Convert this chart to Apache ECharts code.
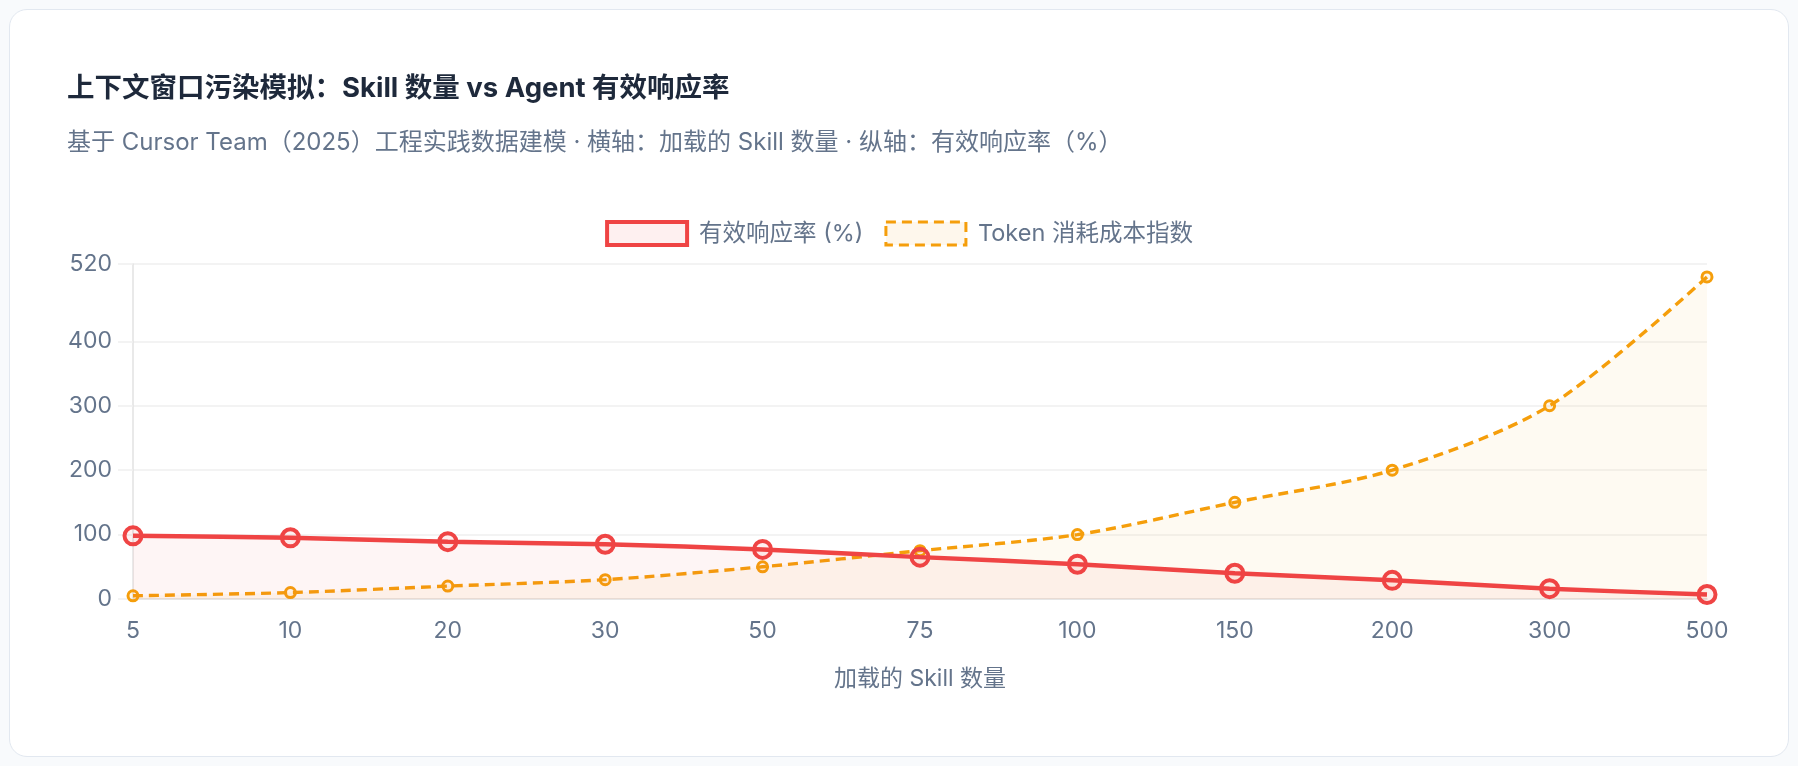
<!DOCTYPE html>
<html>
<head>
<meta charset="utf-8">
<script src="https://cdn.jsdelivr.net/npm/echarts@6/dist/echarts.min.js"></script>
<style>
  html, body { margin: 0; padding: 0; background: #f8fafc; }
  #card {
    position: absolute; left: 9px; top: 9px; width: 1778px; height: 746px;
    background: #fff; border: 1px solid #e2e8f0; border-radius: 18px;
  }
  #chart { position: absolute; left: 0; top: 0; width: 1798px; height: 766px; }
</style>
</head>
<body>
<div id="card"></div>
<div id="chart"></div>
<script>
// 数据
var skillCounts = ['5', '10', '20', '30', '50', '75', '100', '150', '200', '300', '500'];
var responseRate = [98, 95, 89, 85, 77, 65, 54, 40, 29, 16, 7];
var tokenCost = [5, 10, 20, 30, 50, 75, 100, 150, 200, 300, 500];
var yTicks = [0, 100, 200, 300, 400, 520];
var seriesNames = ['有效响应率 (%)', 'Token 消耗成本指数'];

var titleText = '上下文窗口污染模拟：Skill 数量 vs Agent 有效响应率';
var subText = '基于 Cursor Team（2025）工程实践数据建模 · 横轴：加载的 Skill 数量 · 纵轴：有效响应率（%）';

var fontFamily = 'Inter, "Noto Sans CJK SC", sans-serif';
var red = '#ef4444', redFill = 'rgba(239,68,68,0.08)';
var orange = '#f59e0b', orangeFill = 'rgba(245,158,11,0.08)';
var gridColor = '#efefef';
var textColor = '#64748b';

var myChart = echarts.init(document.getElementById('chart'));

var option = {
  animation: false,
  textStyle: { fontFamily: fontFamily },
  title: [{
    text: titleText,
    left: 62, top: 70,
    textStyle: { fontSize: 27.5, fontWeight: 'bold', color: '#1e293b', fontFamily: fontFamily }
  }, {
    text: subText,
    left: 62, top: 126,
    textStyle: { fontSize: 24, fontWeight: 'normal', color: textColor, fontFamily: fontFamily }
  }],
  legend: {
    top: 215,
    left: 'center',
    itemWidth: 80,
    itemHeight: 23,
    itemGap: 21,
    textStyle: { fontSize: 23.5, color: textColor, fontFamily: fontFamily, padding: [0, 0, 0, 7] },
    data: [{
      name: seriesNames[0], icon: 'rect',
      itemStyle: { color: redFill, borderColor: red, borderWidth: 4 }
    }, {
      name: seriesNames[1], icon: 'rect',
      itemStyle: { color: orangeFill, borderColor: orange, borderWidth: 3, borderType: [10, 6] }
    }]
  },
  grid: { left: 133, right: 91, top: 264, bottom: 167, containLabel: false },
  xAxis: {
    type: 'category',
    data: skillCounts,
    boundaryGap: false,
    name: '加载的 Skill 数量',
    nameLocation: 'middle',
    nameGap: 69,
    nameTextStyle: { fontSize: 23, color: textColor },
    axisLine: { show: true, lineStyle: { color: '#e2e2e2', width: 1.5 } },
    axisTick: { show: false },
    axisLabel: { fontSize: 23, color: textColor, margin: 21 },
    splitLine: { show: false }
  },
  yAxis: {
    type: 'value',
    min: 0,
    max: 520,
    axisLine: { show: true, lineStyle: { color: '#e2e2e2', width: 1.5 } },
    axisTick: { show: true, length: 15, customValues: yTicks, lineStyle: { color: gridColor, width: 1.5 } },
    axisLabel: { fontSize: 23, color: textColor, margin: 21, customValues: yTicks },
    splitLine: { show: true, lineStyle: { color: gridColor, width: 1.5 } }
  },
  series: [{
    name: seriesNames[0],
    type: 'line',
    data: responseRate,
    smooth: 0.3,
    symbol: 'circle',
    symbolSize: 17,
    lineStyle: { color: red, width: 4.5 },
    itemStyle: { color: redFill, borderColor: red, borderWidth: 4 },
    areaStyle: { color: redFill, origin: 'start' },
    z: 3
  }, {
    name: seriesNames[1],
    type: 'line',
    data: tokenCost,
    smooth: 0.3,
    symbol: 'circle',
    symbolSize: 10,
    lineStyle: { color: orange, width: 3.4, type: [10, 6] },
    itemStyle: { color: orangeFill, borderColor: orange, borderWidth: 3 },
    areaStyle: { color: orangeFill, origin: 'start' },
    z: 2
  }]
};
myChart.setOption(option);
</script>
</body>
</html>
